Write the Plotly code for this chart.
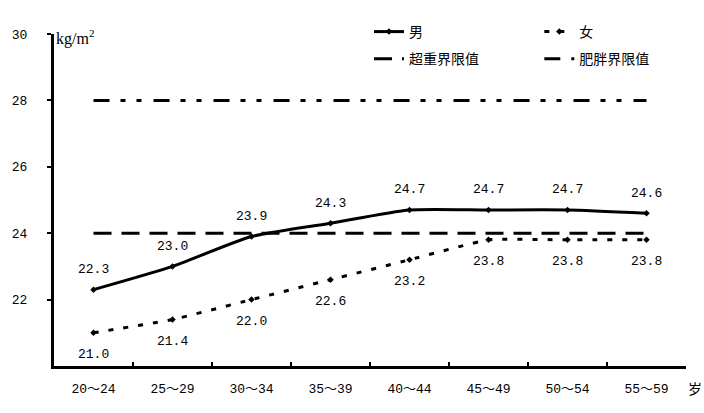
import plotly.graph_objects as go

ages = ["20～24", "25～29", "30～34", "35～39", "40～44", "45～49", "50～54", "55～59"]
male = [22.3, 23.0, 23.9, 24.3, 24.7, 24.7, 24.7, 24.6]
female = [21.0, 21.4, 22.0, 22.6, 23.2, 23.8, 23.8, 23.8]
overweight = [24] * 8
obese = [28] * 8
y_ticks = [22, 24, 26, 28, 30]

NUM_FONT = "Liberation Mono, Noto Sans CJK SC, monospace"
CJK_FONT = "Noto Sans CJK SC, sans-serif"

fig = go.Figure()
fig.add_trace(go.Scatter(
    x=ages, y=male, name="男", mode="lines+markers",
    line=dict(color="black", width=3, shape="spline", smoothing=0.6),
    marker=dict(symbol="diamond", size=5, color="black"),
    legend="legend", legendgroup="m"))
fig.add_trace(go.Scatter(
    x=ages, y=overweight, name="超重界限值", mode="lines",
    line=dict(color="black", width=3, dash="18px,10px"),
    legend="legend", legendgroup="o"))
fig.add_trace(go.Scatter(
    x=ages, y=female, name="女", mode="lines+markers",
    line=dict(color="black", width=3, dash="5px,10px", shape="spline", smoothing=0.4),
    marker=dict(symbol="diamond", size=5, color="black"),
    legend="legend2", legendgroup="f"))
fig.add_trace(go.Scatter(
    x=ages, y=obese, name="肥胖界限值", mode="lines",
    line=dict(color="black", width=3, dash="16px,11px,5px,11px,5px,12px"),
    legend="legend2", legendgroup="b"))

for a, v in zip(ages, male):
    fig.add_annotation(x=a, y=v, text=f"{v:.1f}", showarrow=False, yshift=20,
                       font=dict(family=NUM_FONT, size=13, color="black"))
for a, v in zip(ages, female):
    fig.add_annotation(x=a, y=v, text=f"{v:.1f}", showarrow=False, yshift=-22,
                       font=dict(family=NUM_FONT, size=13, color="black"))

fig.add_annotation(xref="paper", yref="paper", x=0.0, y=0.99, xanchor="left", yanchor="middle",
                   text="kg/m<sup>2</sup>", showarrow=False,
                   font=dict(family="Liberation Serif, serif", size=16, color="black"))
fig.add_annotation(xref="paper", yref="paper", x=1.0, y=-0.065, xanchor="left", yanchor="middle",
                   text="岁", showarrow=False,
                   font=dict(family=CJK_FONT, size=14, color="black"))

fig.update_layout(
    width=704, height=413,
    margin=dict(l=44, r=18, t=34, b=47),
    plot_bgcolor="white", paper_bgcolor="white",
    font=dict(family=NUM_FONT, size=13, color="black"),
    legend=dict(x=(364 - 44) / 642, y=1 + (34 - 16) / 332, xanchor="left", yanchor="top",
                orientation="v", tracegroupgap=6, bgcolor="rgba(0,0,0,0)",
                font=dict(family=CJK_FONT, size=14, color="black")),
    legend2=dict(x=(537 - 44) / 642, y=1 + (34 - 16) / 332, xanchor="left", yanchor="top",
                 orientation="v", tracegroupgap=6, bgcolor="rgba(0,0,0,0)",
                 font=dict(family=CJK_FONT, size=14, color="black")),
)
fig.update_xaxes(
    type="category", range=[-0.5, 7.5], tickson="boundaries",
    showline=True, linecolor="black", linewidth=3,
    ticks="inside", ticklen=4, tickwidth=2, tickcolor="black",
    showgrid=False, zeroline=False, ticklabelstandoff=8,
    tickfont=dict(family=NUM_FONT, size=13, color="black"))
fig.update_yaxes(
    range=[20, 30], tickvals=y_ticks,
    showline=True, linecolor="black", linewidth=3,
    ticks="outside", ticklen=4, tickwidth=2, tickcolor="black",
    showgrid=False, zeroline=False, ticklabelstandoff=17,
    tickfont=dict(family=NUM_FONT, size=13, color="black"))

fig.write_html("out.html")
